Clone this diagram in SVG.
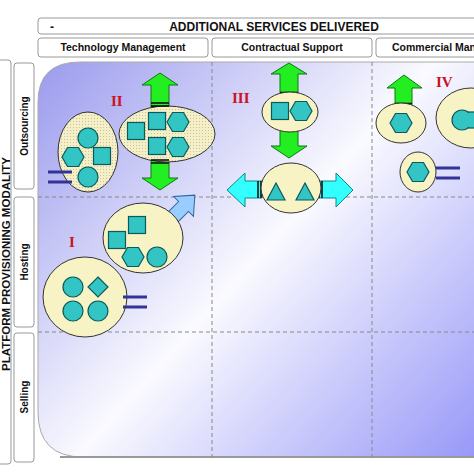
<svg xmlns="http://www.w3.org/2000/svg" xmlns:xlink="http://www.w3.org/1999/xlink" width="474" height="474" viewBox="0 0 474 474">
<style>
.hdr{fill:#fff;stroke:#999;stroke-width:1}
.ht{font-family:"Liberation Sans",Arial,sans-serif;font-weight:bold;fill:#111;text-anchor:middle}
.hs{font-family:"Liberation Sans",Arial,sans-serif;font-weight:bold;fill:#111;text-anchor:start}
.ell{fill:#f7f3c4;stroke:#333;stroke-width:1}
.ellp{fill:url(#dots);stroke:#333;stroke-width:1}
.sh{fill:#33c4c4;stroke:#0b5a5a;stroke-width:1.2}
.grn{fill:#22ee22;stroke:#117711;stroke-width:1}
.cyn{fill:#33ffff;stroke:#118888;stroke-width:1}
.lb{fill:#99ccff;stroke:#336699;stroke-width:1}
.stp{stroke:#111;stroke-width:1.6}
.bar{stroke:#333399;stroke-width:3}
.dash{stroke:#888;stroke-width:1;stroke-dasharray:4,3;fill:none}
.rn{font-family:"Liberation Serif","Times New Roman",serif;font-weight:bold;fill:#cc1122;font-size:15px}
</style>
<defs>
<linearGradient id="bg" x1="38" y1="62" x2="474" y2="457" gradientUnits="userSpaceOnUse">
<stop offset="0" stop-color="#9a9aee"/>
<stop offset="0.5" stop-color="#fafaff"/>
<stop offset="1" stop-color="#9898f8"/>
</linearGradient>
<pattern id="dots" width="3" height="3" patternUnits="userSpaceOnUse">
<rect width="3" height="3" fill="#f4efc6"/>
<rect x="1" y="1" width="1" height="1" fill="#c8c49a"/>
</pattern>
<polygon id="hex" points="-11,0 -5.5,-9.5 5.5,-9.5 11,0 5.5,9.5 -5.5,9.5" class="sh"/>
<rect id="sq" x="-8.5" y="-8.5" width="17" height="17" class="sh"/>
<circle id="ci" r="10" class="sh"/>
<polygon id="tri" points="0,-9 9,8 -9,8" class="sh"/>
<polygon id="dia" points="0,-10 10,0 0,10 -10,0" class="sh"/>
</defs>

<g id="main-area">
<path d="M80,62 H480 V457 H83 Q38,457 38,412 V102 Q38,62 80,62 Z" fill="url(#bg)" stroke="#aaa" stroke-width="1"/>
<line x1="60" y1="457" x2="474" y2="457" stroke="#999" stroke-width="2"/>
<line class="dash" x1="38" y1="197" x2="474" y2="197"/>
<line class="dash" x1="38" y1="332" x2="474" y2="332"/>
<line class="dash" x1="212" y1="62" x2="212" y2="457"/>
<line class="dash" x1="372" y1="62" x2="372" y2="457"/>
</g>

<g id="header-top">
<rect class="hdr" x="38" y="18" width="450" height="16" rx="3"/>
<text class="ht" x="52" y="31" font-size="12">-</text>
<text class="ht" x="274" y="31" font-size="12">ADDITIONAL SERVICES DELIVERED</text>
</g>
<g id="col-tech">
<rect class="hdr" x="38" y="38" width="170" height="19" rx="3"/>
<text class="ht" x="123" y="51" font-size="10.5">Technology Management</text>
</g>
<g id="col-contract">
<rect class="hdr" x="212" y="38" width="160" height="19" rx="3"/>
<text class="ht" x="292" y="51" font-size="10.5">Contractual Support</text>
</g>
<g id="col-commercial">
<rect class="hdr" x="376" y="38" width="110" height="19" rx="3"/>
<text class="hs" x="392" y="51" font-size="10.5">Commercial Management</text>
</g>

<g id="row-main">
<rect class="hdr" x="-10" y="60" width="21" height="404" rx="3"/>
<text class="ht" transform="translate(10,264) rotate(-90)" font-size="11.5">PLATFORM PROVISIONING MODALITY</text>
</g>
<g id="row-outsourcing">
<rect class="hdr" x="14" y="63" width="20" height="126" rx="3"/>
<text class="ht" transform="translate(28,126) rotate(-90)" font-size="10">Outsourcing</text>
</g>
<g id="row-hosting">
<rect class="hdr" x="14" y="197" width="20" height="130" rx="3"/>
<text class="ht" transform="translate(28,262) rotate(-90)" font-size="10">Hosting</text>
</g>
<g id="row-selling">
<rect class="hdr" x="14" y="333" width="20" height="129" rx="3"/>
<text class="ht" transform="translate(28,397) rotate(-90)" font-size="10">Selling</text>
</g>

<g id="connectors">
<path class="grn" d="M160,73 L178,85 L169,85 L169,108 L151,108 L151,85 L142,85 Z"/>
<line class="stp" x1="151" y1="103" x2="169" y2="103"/><line class="stp" x1="151" y1="106.5" x2="169" y2="106.5"/>
<path class="grn" d="M160,190 L178,178 L169,178 L169,158 L151,158 L151,178 L142,178 Z"/>
<line class="stp" x1="151" y1="159.5" x2="169" y2="159.5"/><line class="stp" x1="151" y1="163" x2="169" y2="163"/>
<g transform="translate(168,222) rotate(-45)">
<path class="lb" d="M0,-7 L22,-7 L22,-14 L38,0 L22,14 L22,7 L0,7 Z"/>
<line class="stp" x1="1.5" y1="-7" x2="1.5" y2="7" stroke-width="2.5"/>
<line class="stp" x1="5" y1="-7" x2="5" y2="7"/>
</g>
<path class="grn" d="M289,63 L307,74 L298,74 L298,97 L280,97 L280,74 L271,74 Z"/>
<line class="stp" x1="280" y1="92.5" x2="298" y2="92.5"/><line class="stp" x1="280" y1="95.5" x2="298" y2="95.5"/>
<path class="grn" d="M289,158 L307,146 L298,146 L298,123 L280,123 L280,146 L271,146 Z"/>
<line class="stp" x1="280" y1="124.5" x2="298" y2="124.5"/><line class="stp" x1="280" y1="127.5" x2="298" y2="127.5"/>
<path class="cyn" d="M227,190 L245,173 L245,181 L262,181 L262,198 L245,198 L245,207 Z"/>
<line class="stp" x1="258" y1="181" x2="258" y2="198"/><line class="stp" x1="261" y1="181" x2="261" y2="198"/>
<path class="cyn" d="M353,190 L336,173 L336,181 L318,181 L318,198 L336,198 L336,207 Z"/>
<line class="stp" x1="319" y1="181" x2="319" y2="198"/><line class="stp" x1="322" y1="181" x2="322" y2="198"/>
<path class="grn" d="M404,75 L422,88 L412,88 L412,108 L395,108 L395,88 L387,88 Z"/>
<line class="stp" x1="395" y1="103.5" x2="412" y2="103.5"/><line class="stp" x1="395" y1="106.5" x2="412" y2="106.5"/>
</g>

<g id="node-outsourcing-left">
<ellipse class="ellp" cx="88" cy="152" rx="30" ry="40"/>
<use href="#ci" x="88" y="138"/>
<use href="#hex" x="73" y="157"/>
<use href="#sq" x="102" y="156"/>
<use href="#ci" x="88" y="177"/>
<line class="bar" x1="48" y1="172" x2="72" y2="172"/>
<line class="bar" x1="48" y1="182" x2="72" y2="182"/>
</g>

<g id="node-II">
<ellipse class="ellp" cx="167" cy="134" rx="48" ry="28"/>
<use href="#sq" x="136" y="131"/>
<use href="#sq" x="157" y="121"/>
<use href="#sq" x="157" y="146"/>
<use href="#hex" x="178" y="122"/>
<use href="#hex" x="178" y="147"/>
<line class="stp" x1="151" y1="106" x2="169" y2="106" stroke-width="3"/>
<line class="stp" x1="151" y1="160" x2="169" y2="160" stroke-width="3"/>
<text class="rn" x="111" y="106">II</text>
</g>

<g id="node-I-upper">
<ellipse class="ell" cx="143" cy="238" rx="40" ry="35"/>
<use href="#sq" x="137" y="225"/>
<use href="#sq" x="117" y="240"/>
<use href="#hex" x="133" y="257"/>
<use href="#ci" x="157" y="257"/>
</g>

<g id="node-I-lower">
<ellipse class="ell" cx="85" cy="297" rx="42" ry="40"/>
<use href="#ci" x="73" y="287"/>
<use href="#dia" x="98" y="287"/>
<use href="#ci" x="73" y="311"/>
<use href="#ci" x="98" y="311"/>
<line class="bar" x1="123" y1="297" x2="147" y2="297"/>
<line class="bar" x1="123" y1="307" x2="147" y2="307"/>
<text class="rn" x="69" y="247">I</text>
</g>

<g id="node-III-top">
<ellipse class="ell" cx="290" cy="112" rx="28" ry="20"/>
<use href="#sq" x="280" y="111"/>
<use href="#hex" x="301" y="111"/>
<text class="rn" x="232" y="103">III</text>
</g>

<g id="node-III-bottom">
<ellipse class="ell" cx="291" cy="188" rx="30" ry="25"/>
<use href="#tri" x="276" y="192"/>
<use href="#tri" x="305" y="192"/>
</g>

<g id="node-IV-left">
<ellipse class="ell" cx="401" cy="123" rx="25" ry="20"/>
<use href="#hex" x="401" y="123"/>
</g>

<g id="node-IV-right">
<ellipse class="ell" cx="471" cy="118" rx="35" ry="30"/>
<rect x="462" y="112" width="14" height="16" class="sh"/>
<circle cx="462" cy="120" r="10" class="sh"/>
<rect x="462" y="113" width="14" height="14" fill="#33c4c4"/>
<text class="rn" x="436" y="87">IV</text>
</g>

<g id="node-IV-small">
<ellipse class="ell" cx="418" cy="172" rx="18" ry="20"/>
<use href="#hex" x="418" y="172"/>
<line class="bar" x1="436" y1="168" x2="460" y2="168"/>
<line class="bar" x1="436" y1="178" x2="460" y2="178"/>
</g>
</svg>
